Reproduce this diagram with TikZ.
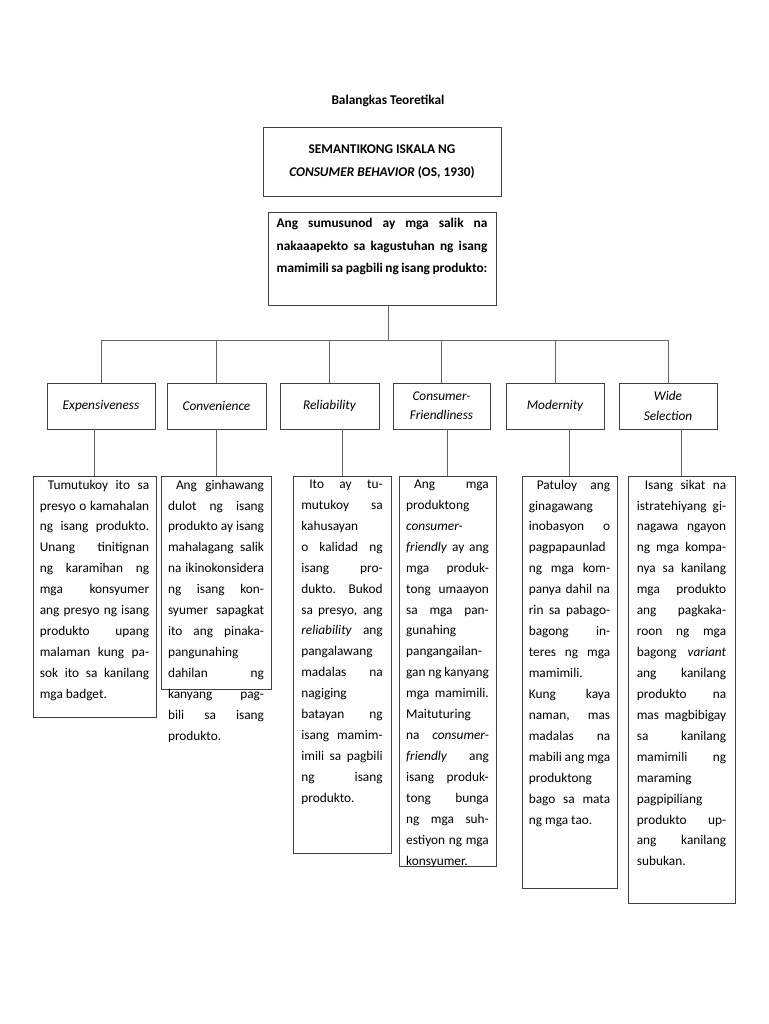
\documentclass[tikz,border=0pt]{standalone}
\usepackage{fontspec}
\setmainfont{Carlito}
\begin{document}
\begin{tikzpicture}[x=0.75pt,y=-0.75pt,
  bx/.style={draw=black!75, line width=0.6pt, rectangle, inner sep=0pt},
  cat/.style={bx, minimum height=34.5pt, font=\fontsize{10}{14.5}\selectfont\itshape, align=center},
  txt/.style={anchor=north, inner sep=0pt, font=\fontsize{10}{15.7}\selectfont, align=justify},
  ln/.style={draw=black!60, line width=0.6pt}]
\useasboundingbox (0,0) rectangle (768,1024);
\node[font=\fontsize{10}{12}\selectfont\bfseries] (title) at (388,101) {Balangkas Teoretikal};
\node[bx, minimum width=178.5pt, minimum height=51.75pt, align=center, font=\fontsize{10}{17}\selectfont\bfseries] (b1) at (382,161.5) {SEMANTIKONG ISKALA NG\\\textit{CONSUMER BEHAVIOR} (OS, 1930)};
\node[bx, minimum width=171pt, minimum height=69.75pt] (b2) at (382,258.5) {};
\node[txt, text width=158pt, font=\fontsize{10}{17}\selectfont\bfseries] (t2) at (382,218) {\hyphenpenalty=10000 Ang sumusunod ay mga salik na nakaaapekto sa kagustuhan ng isang mamimili sa pagbili ng isang produkto:};
\coordinate (j) at (388,340);
\coordinate (l) at (101,340);
\coordinate (r) at (668,340);
\draw[ln] (388,305) -- (j);
\draw[ln] (l) -- (r);
\foreach \n/\x/\w/\t in {c1/101/108/Expensiveness, c2/216.5/99/Convenience, c3/329.5/99/Reliability, c4/441.5/97/{Consumer-\\Friendliness}, c5/555/98/Modernity, c6/668/98/{Wide\\Selection}}{
  \node[cat, minimum width=\w*0.75pt] (\n) at (\x,406) {\t};
  \draw[ln] (\x,340) -- (\n.north);
}
\foreach \n/\a/\b/\c in {d1/33/156/717, d2/161/271/689, d3/293/391/853, d4/399/496/866, d5/522/617/888, d6/628/735/903}{
  \node[bx, minimum width={(\b-\a)*0.75pt}, minimum height={(\c-476)*0.75pt}] (\n) at ({(\a+\b)/2},{(476+\c)/2}) {};
}
\foreach \c/\d/\x in {c1/d1/94.5, c2/d2/216, c3/d3/342, c4/d4/447.5, c5/d5/569.5, c6/d6/681.5}{
  \draw[ln] (\c.south -| \x,0) -- (\d.north -| \x,0);
}
\node[txt, text width=82pt] (t1) at (d1.north) [yshift=-3pt] {\hspace*{0.6em}Tumutukoy ito sa presyo o kamahalan ng isang produkto. Unang tinitignan ng karamihan ng mga konsyumer ang presyo ng isang produkto upang malaman kung pasok ito sa kanilang mga badget.};
\node[txt, text width=72pt] (t2b) at (d2.north) [yshift=-3pt] {\hspace*{0.6em}Ang ginhawang dulot ng isang produkto ay isang mahalagang salik na ikinokonsidera ng isang konsyumer sapagkat ito ang pinaka-pangunahing dahilan ng kanyang pagbili sa isang produkto.};
\node[txt, text width=61pt] (t3) at (d3.north) [yshift=-3pt] {\hspace*{0.6em}Ito ay tumutukoy sa kahusayan o kalidad ng isang produkto. Bukod sa presyo, ang \textit{reliability} ang pangalawang madalas na nagiging batayan ng isang mamimimili sa pagbili ng isang produkto.};
\node[txt, text width=62pt] (t4) at (d4.north) [yshift=-3pt] {\hspace*{0.6em}Ang mga produktong \textit{consumer-friendly} ay ang mga produktong umaayon sa mga pangunahing pangangailangan ng kanyang mga mamimili. Maituturing na \textit{consumer-friendly} ang isang produktong bunga ng mga suhestiyon ng mga konsyumer.};
\node[txt, text width=61pt] (t5) at (d5.north) [yshift=-3pt] {\hspace*{0.6em}Patuloy ang ginagawang inobasyon o pagpapaunlad ng mga kompanya dahil na rin sa pabago-bagong interes ng mga mamimili. Kung kaya naman, mas madalas na mabili ang mga produktong bago sa mata ng mga tao.};
\node[txt, text width=67pt] (t6) at (d6.north) [yshift=-3pt] {\hspace*{0.6em}Isang sikat na istratehiyang ginagawa ngayon ng mga kompanya sa kanilang mga produkto ang pagkakaroon ng mga bagong \textit{variant} ang kanilang produkto na mas magbibigay sa kanilang mamimili ng maraming pagpipiliang produkto upang kanilang subukan.};
\end{tikzpicture}
\end{document}
